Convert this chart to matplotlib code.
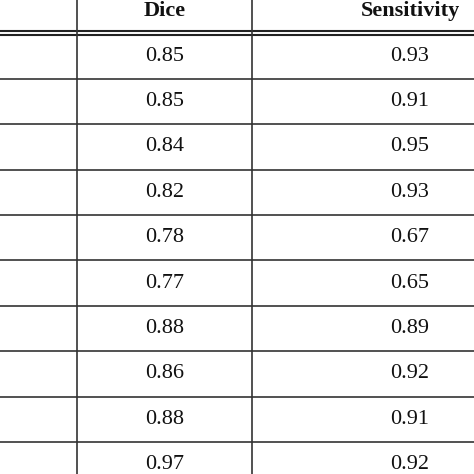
import matplotlib

matplotlib.use("Agg")
import matplotlib.pyplot as plt

headers = ["Dice", "Sensitivity"]
dice = ["0.85", "0.85", "0.84", "0.82", "0.78", "0.77", "0.88", "0.86", "0.88", "0.97"]
sensitivity = ["0.93", "0.91", "0.95", "0.93", "0.67", "0.65", "0.89", "0.92", "0.91", "0.92"]

W = H = 474
fig = plt.figure(figsize=(4.74, 4.74), dpi=100)
ax = fig.add_axes([0, 0, 1, 1])
ax.set_xlim(0, W)
ax.set_ylim(H, 0)
ax.axis("off")

font = dict(family="Liberation Serif", fontsize=16, ha="center", va="center", color="#111")
col_x = [165, 410]
top_row = 56
step = 45.4

# header
for x, h in zip(col_x, headers):
    ax.text(x, 11, h, fontweight="bold", **font)

# double rule under header
ax.plot([0, W], [31, 31], color="#222", lw=1.5)
ax.plot([0, W], [34.5, 34.5], color="#222", lw=1.5)

# body rows
for i, (d, s) in enumerate(zip(dice, sensitivity)):
    y = top_row + i * step
    ax.text(col_x[0], y, d, **font)
    ax.text(col_x[1], y, s, **font)
    if i > 0:
        yl = y - step / 2
        ax.plot([0, W], [yl, yl], color="#333", lw=1.2)

for x in (77, 252):
    ax.plot([x, x], [0, H], color="#333", lw=1.2)

fig.savefig("out.png", dpi=100)
